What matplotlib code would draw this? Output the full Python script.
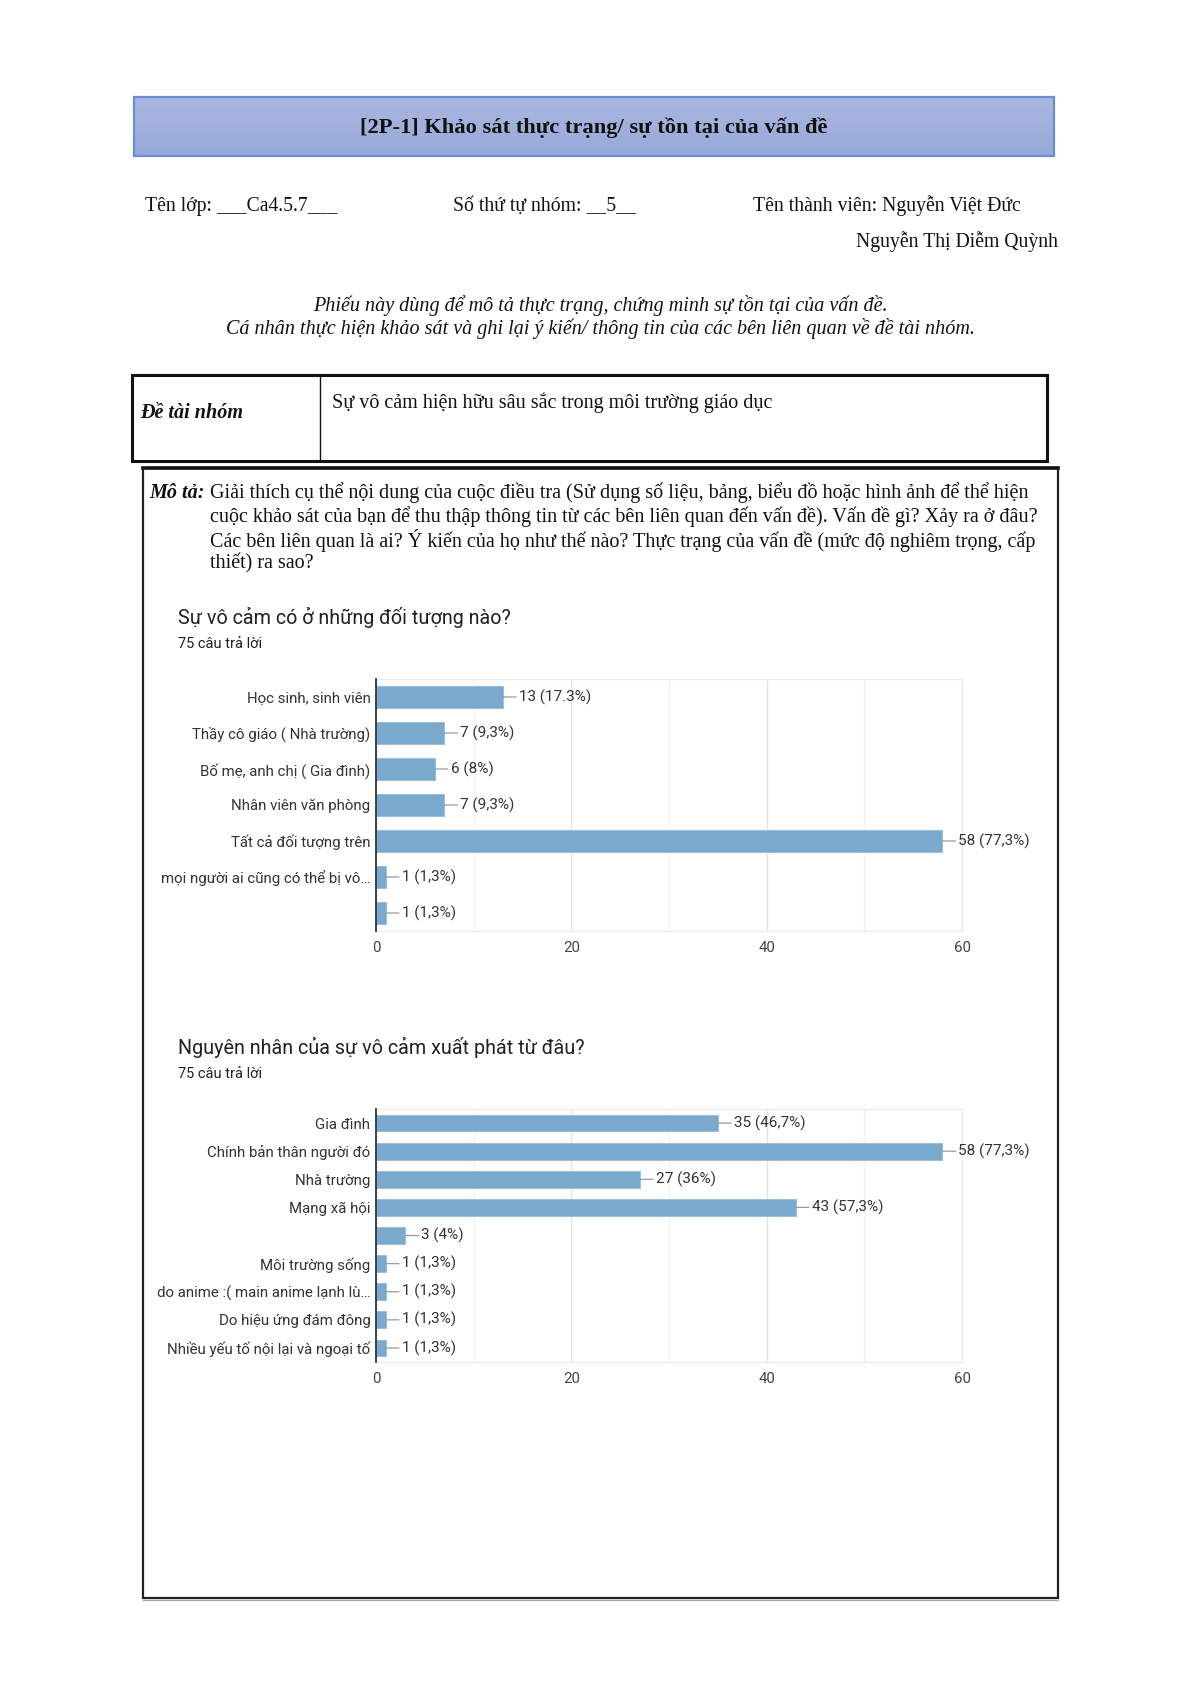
import matplotlib
matplotlib.use("Agg")
import matplotlib.pyplot as plt
import numpy as np

# ---------------- data ----------------
header_title = "[2P-1] Khảo sát thực trạng/ sự tồn tại của vấn đề"
class_name = "Tên lớp: ___Ca4.5.7___"
group_no = "Số thứ tự nhóm: __5__"
members_1 = "Tên thành viên: Nguyễn Việt Đức"
members_2 = "Nguyễn Thị Diễm Quỳnh"
intro_lines = ["Phiếu này dùng để mô tả thực trạng, chứng minh sự tồn tại của vấn đề.",
               "Cá nhân thực hiện khảo sát và ghi lại ý kiến/ thông tin của các bên liên quan về đề tài nhóm."]
topic_label = "Đề tài nhóm"
topic_text = "Sự vô cảm hiện hữu sâu sắc trong môi trường giáo dục"
desc_label = "Mô tả:"
desc_lines = ["Giải thích cụ thể nội dung của cuộc điều tra (Sử dụng số liệu, bảng, biểu đồ hoặc hình ảnh để thể hiện",
              "cuộc khảo sát của bạn để thu thập thông tin từ các bên liên quan đến vấn đề). Vấn đề gì? Xảy ra ở đâu?",
              "Các bên liên quan là ai? Ý kiến của họ như thế nào? Thực trạng của vấn đề (mức độ nghiêm trọng, cấp",
              "thiết) ra sao?"]

q1_title = "Sự vô cảm có ở những đối tượng nào?"
q1_sub = "75 câu trả lời"
q1_categories = ["Học sinh, sinh viên", "Thầy cô giáo ( Nhà trường)", "Bố mẹ, anh chị ( Gia đình)",
                 "Nhân viên văn phòng", "Tất cả đối tượng trên", "mọi người ai cũng có thể bị vô…", ""]
q1_values = [13, 7, 6, 7, 58, 1, 1]
q1_labels = ["13 (17.3%)", "7 (9,3%)", "6 (8%)", "7 (9,3%)", "58 (77,3%)", "1 (1,3%)", "1 (1,3%)"]

q2_title = "Nguyên nhân của sự vô cảm xuất phát từ đâu?"
q2_sub = "75 câu trả lời"
q2_categories = ["Gia đình", "Chính bản thân người đó", "Nhà trường", "Mạng xã hội", "",
                 "Môi trường sống", "do anime :( main anime lạnh lù…", "Do hiệu ứng đám đông",
                 "Nhiều yếu tố nội lại và ngoại tố"]
q2_values = [35, 58, 27, 43, 3, 1, 1, 1, 1]
q2_labels = ["35 (46,7%)", "58 (77,3%)", "27 (36%)", "43 (57,3%)", "3 (4%)",
             "1 (1,3%)", "1 (1,3%)", "1 (1,3%)", "1 (1,3%)"]
x_ticks = [0, 20, 40, 60]

# ---------------- figure ----------------
W, H = 1200, 1698
fig = plt.figure(figsize=(W / 100, H / 100), dpi=100)
bg = fig.add_axes([0, 0, 1, 1])
bg.set_xlim(0, W)
bg.set_ylim(H, 0)
bg.axis("off")

SERIF = ["Liberation Serif", "DejaVu Serif"]
SANS = ["Roboto", "Liberation Sans", "DejaVu Sans"]

# header box with gradient
grad = np.linspace(0, 1, 100).reshape(-1, 1)
top_c = np.array([0.667, 0.718, 0.878])
bot_c = np.array([0.596, 0.663, 0.851])
img = top_c[None, None, :] * (1 - grad[:, :, None]) + bot_c[None, None, :] * grad[:, :, None]
bg.imshow(img, extent=(134, 1054, 156, 97), aspect="auto", zorder=1)
bg.add_patch(plt.Rectangle((134, 97), 920, 59, fill=False, edgecolor="#6a8fd8", lw=1.6, zorder=2))
bg.text(594, 128, header_title, family=SERIF, fontsize=16.2, fontweight="bold",
        ha="center", va="center", color="#111111", zorder=3)

# info lines
FS_INFO = 14.2
bg.text(145, 206, class_name, family=SERIF, fontsize=FS_INFO, ha="left", va="center", color="#111")
bg.text(453, 206, group_no, family=SERIF, fontsize=FS_INFO, ha="left", va="center", color="#111")
bg.text(753, 206, members_1, family=SERIF, fontsize=FS_INFO, ha="left", va="center", color="#111")
bg.text(1058, 242, members_2, family=SERIF, fontsize=FS_INFO, ha="right", va="center", color="#111")

# intro italic lines
bg.text(600, 305, intro_lines[0], family=SERIF, fontsize=14.5, style="italic", ha="center", va="center", color="#111")
bg.text(600, 328, intro_lines[1], family=SERIF, fontsize=14.5, style="italic", ha="center", va="center", color="#111")

# topic table
bg.add_patch(plt.Rectangle((132, 375), 1047 - 132, 461 - 375, fill=False, edgecolor="#111", lw=2.2, zorder=2))
bg.plot([320, 320], [375, 461], color="#111", lw=1.0, zorder=2)
bg.text(140, 413, topic_label, family=SERIF, fontsize=14.5, style="italic", fontweight="bold",
        ha="left", va="center", color="#111")
bg.text(332, 403, topic_text, family=SERIF, fontsize=14.5, ha="left", va="center", color="#111")

# description box
bg.add_patch(plt.Rectangle((143, 468), 1058 - 143, 1598 - 468, fill=False, edgecolor="#222", lw=1.6, zorder=2))
bg.plot([143, 1058], [468, 468], color="#111", lw=2.6, zorder=2)
bg.plot([143, 1058], [1600, 1600], color="#aaaaaa", lw=1.0, zorder=1)
bg.text(149, 493, desc_label, family=SERIF, fontsize=14.5, style="italic", fontweight="bold",
        ha="left", va="center", color="#111")
for i, line in enumerate(desc_lines):
    bg.text(210, 493 + i * 23.6, line, family=SERIF, fontsize=14.5, ha="left", va="center", color="#111")


def draw_chart(title, sub, cats, vals, labels, title_y, sub_y, ax_top, ax_bot):
    bg.text(178, title_y, title, family=SANS, fontsize=14.2, ha="left", va="center", color="#202124")
    bg.text(178, sub_y, sub, family=SANS, fontsize=10.5, ha="left", va="center", color="#202124")
    left, right = 376, 962
    ax = fig.add_axes([left / W, 1 - ax_bot / H, (right - left) / W, (ax_bot - ax_top) / H])
    n = len(cats)
    y = np.arange(n)
    ax.barh(y, vals, height=0.6, color="#79a9cc", edgecolor="#9cc0dc", lw=0.8, zorder=3)
    ax.set_xlim(0, 60)
    ax.set_ylim(n - 0.5, -0.5)
    ax.set_xticks(x_ticks)
    ax.set_xticks([10, 30, 50], minor=True)
    ax.set_yticks(y)
    ax.set_yticklabels(cats, family=SANS, fontsize=10.8, color="#333333")
    ax.set_xticklabels([str(t) for t in x_ticks], family=SANS, fontsize=10.8, color="#444444")
    ax.tick_params(axis="both", which="both", length=0)
    ax.tick_params(axis="y", pad=4)
    ax.tick_params(axis="x", pad=7)
    ax.grid(axis="x", which="major", color="#e4e4e4", lw=1.0, zorder=0)
    ax.grid(axis="x", which="minor", color="#f2f2f2", lw=1.0, zorder=0)
    for s in ["top", "bottom", "right"]:
        ax.spines[s].set_color("#ececec")
        ax.spines[s].set_linewidth(1.0)
    ax.spines["left"].set_color("#333333")
    ax.spines["left"].set_linewidth(1.3)
    ax.spines["left"].set_zorder(5)
    for yi, v, lab in zip(y, vals, labels):
        ax.annotate(lab, xy=(v, yi), xytext=(11.5, 0), textcoords="offset points",
                    ha="left", va="center", family=SANS, fontsize=11, color="#333333",
                    arrowprops=dict(arrowstyle="-", color="#9a9a9a", lw=0.9, shrinkA=0, shrinkB=0),
                    annotation_clip=False, zorder=4)
    return ax


draw_chart(q1_title, q1_sub, q1_categories, q1_values, q1_labels, 618, 644, 679, 931)
draw_chart(q2_title, q2_sub, q2_categories, q2_values, q2_labels, 1048, 1074, 1109, 1362)

fig.savefig("out.png", dpi=100, facecolor="white")
